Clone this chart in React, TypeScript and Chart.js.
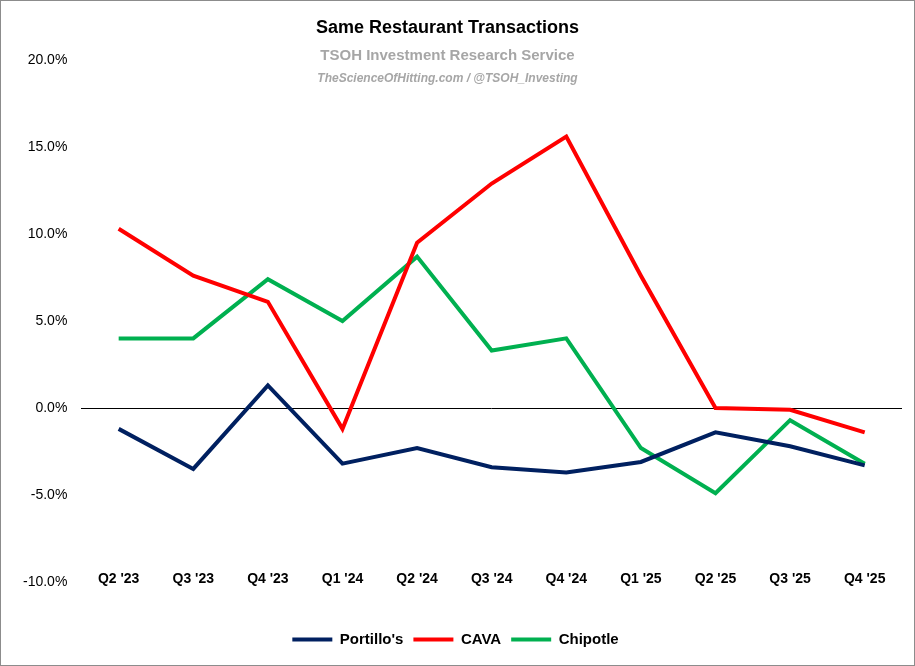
import React, { useEffect, useRef } from "react";
import { Chart, registerables } from "chart.js";
Chart.register(...registerables);

const categories = ["Q2 '23", "Q3 '23", "Q4 '23", "Q1 '24", "Q2 '24", "Q3 '24", "Q4 '24", "Q1 '25", "Q2 '25", "Q3 '25", "Q4 '25"];
const portillos = [-1.2, -3.5, 1.3, -3.2, -2.3, -3.4, -3.7, -3.1, -1.4, -2.2, -3.3];
const cava = [10.3, 7.6, 6.1, -1.2, 9.5, 12.9, 15.6, 7.6, 0.0, -0.1, -1.4];
const chipotle = [4.0, 4.0, 7.4, 5.0, 8.7, 3.3, 4.0, -2.3, -4.9, -0.7, -3.2];
const yTicks = [-10, -5, 0, 5, 10, 15, 20];

const FONT = "'Liberation Sans', Arial, sans-serif";

const titlePlugin = {
  id: "titles",
  afterDraw(chart: any) {
    const ctx = chart.ctx;
    const cx = chart.width / 2 - 10;
    ctx.save();
    ctx.textAlign = "center";
    ctx.textBaseline = "middle";
    ctx.fillStyle = "#000";
    ctx.font = `bold 18px ${FONT}`;
    ctx.fillText("Same Restaurant Transactions", cx, 27);
    ctx.fillStyle = "#a6a6a6";
    ctx.font = `bold 15px ${FONT}`;
    ctx.fillText("TSOH Investment Research Service", cx, 55);
    ctx.font = `italic bold 12px ${FONT}`;
    ctx.fillText("TheScienceOfHitting.com / @TSOH_Investing", cx, 78);
    // category labels along the bottom
    const xs = chart.scales.x;
    const yb = chart.chartArea.bottom - 3;
    ctx.fillStyle = "#000";
    ctx.font = `bold 14px ${FONT}`;
    categories.forEach((c, i) => ctx.fillText(c, xs.getPixelForValue(i), yb));
    ctx.restore();
  },
};

export default function App() {
  const ref = useRef<HTMLCanvasElement>(null);
  useEffect(() => {
    document.body.style.margin = "0";
    const mk = (label: string, data: number[], color: string) => ({
      label, data, borderColor: color, backgroundColor: color, borderWidth: 4,
      pointRadius: 0, tension: 0, pointStyle: "line" as const,
    });
    const chart = new Chart(ref.current!, {
      type: "line",
      data: {
        labels: categories,
        datasets: [mk("Portillo's", portillos, "#002060"), mk("CAVA", cava, "#ff0000"), mk("Chipotle", chipotle, "#00b050")],
      },
      plugins: [titlePlugin],
      options: {
        animation: false,
        responsive: false,
        layout: { padding: { top: 59, right: 12, left: 8, bottom: 8 } },
        plugins: {
          tooltip: { enabled: false },
          legend: {
            position: "bottom",
            title: { display: true, text: " ", font: { size: 10 }, padding: { top: 14, bottom: 14 } },
            labels: {
              usePointStyle: true, pointStyleWidth: 40, boxHeight: 4,
              font: { family: FONT, size: 15, weight: "bold" }, color: "#000", padding: 10,
            },
          },
        },
        scales: {
          x: {
            offset: true,
            grid: { display: false, drawTicks: false },
            border: { display: false },
            ticks: { display: false },
          },
          y: {
            min: -10, max: 20,
            afterBuildTicks: (s: any) => { s.ticks = yTicks.map((v) => ({ value: v })); },
            grid: {
              drawTicks: false,
              color: (c: any) => (c.tick && c.tick.value === 0 ? "#000" : "rgba(0,0,0,0)"),
              lineWidth: 1,
            },
            border: { display: false },
            ticks: {
              font: { family: FONT, size: 14 }, color: "#000", padding: 14,
              callback: (v: any) => Number(v).toFixed(1) + "%",
            },
          },
        },
      },
    });
    return () => chart.destroy();
  }, []);
  return (
    <div style={{ width: 913, height: 664, border: "1px solid #8c8c8c", background: "#fff" }}>
      <canvas ref={ref} width={913} height={664} />
    </div>
  );
}
